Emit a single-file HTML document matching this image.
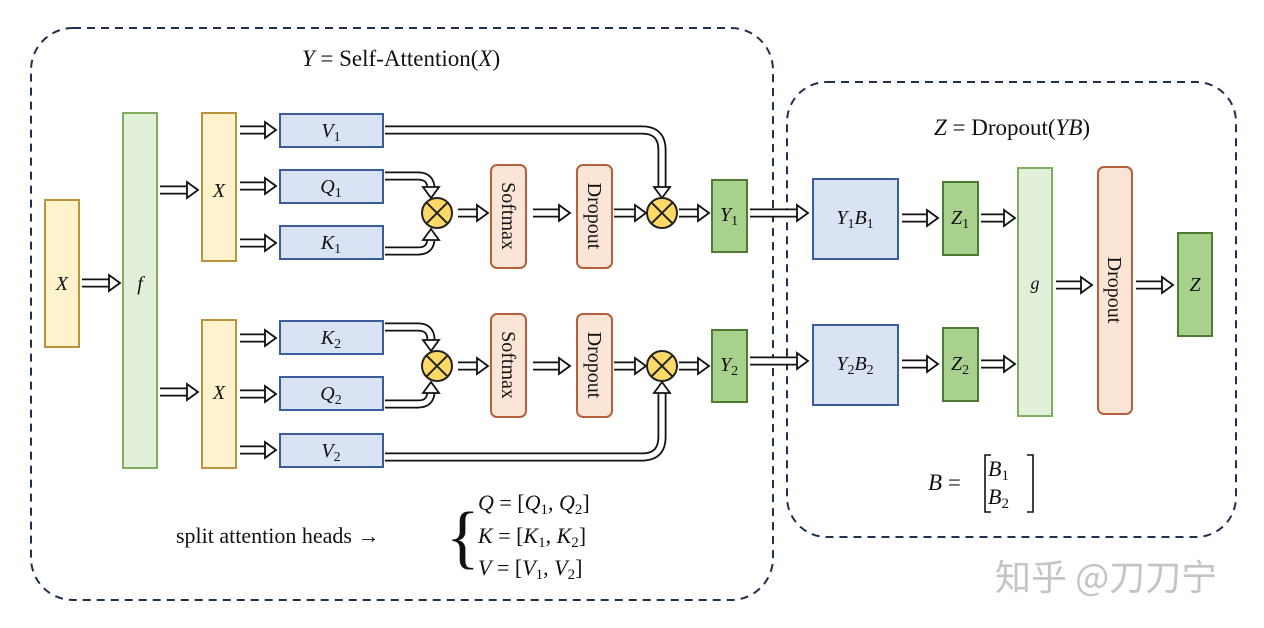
<!DOCTYPE html>
<html><head><meta charset="utf-8">
<style>
html,body{margin:0;padding:0;background:#fff;width:1264px;height:628px;overflow:hidden}
svg text{font-family:"Liberation Serif",serif;fill:#111}
.i{font-style:italic}
</style></head>
<body>
<svg id="s" width="1264" height="628" viewBox="0 0 1264 628" xmlns="http://www.w3.org/2000/svg">
<rect x="31" y="28" width="742" height="572" rx="42" fill="none" stroke="#1f3050" stroke-width="2" stroke-dasharray="8,6"/>
<rect x="787" y="82" width="449" height="455" rx="40" fill="none" stroke="#1f3050" stroke-width="2" stroke-dasharray="8,6"/>
<g id="shapes" stroke-width="2">
<rect x="45" y="200" width="34" height="147" fill="#fff2cc" stroke="#b8953a"/>
<rect x="123" y="113" width="34" height="355" fill="#e2f0d9" stroke="#7fae5e"/>
<rect x="202" y="113" width="34" height="148" fill="#fff2cc" stroke="#b8953a"/>
<rect x="202" y="320" width="34" height="148" fill="#fff2cc" stroke="#b8953a"/>
<g fill="#dae3f3" stroke="#3b5d9c">
<rect x="280" y="114" width="103" height="33"/><rect x="280" y="170" width="103" height="33"/><rect x="280" y="226" width="103" height="33"/>
<rect x="280" y="321" width="103" height="33"/><rect x="280" y="377" width="103" height="33"/><rect x="280" y="434" width="103" height="33"/>
<rect x="813" y="179" width="85" height="80"/><rect x="813" y="325" width="85" height="80"/>
</g>
<g fill="#fbe5d6" stroke="#b5603a">
<rect x="491" y="165" width="35" height="103" rx="6"/><rect x="577" y="165" width="35" height="103" rx="6"/>
<rect x="491" y="314" width="35" height="103" rx="6"/><rect x="577" y="314" width="35" height="103" rx="6"/>
<rect x="1098" y="167" width="34" height="247" rx="6"/>
</g>
<g fill="#a9d18e" stroke="#4f7a31">
<rect x="712" y="180" width="35" height="72"/><rect x="712" y="330" width="35" height="72"/>
<rect x="943" y="182" width="35" height="73"/><rect x="943" y="328" width="35" height="73"/>
<rect x="1178" y="233" width="34" height="103"/>
</g>
<rect x="1018" y="168" width="34" height="248" fill="#e2f0d9" stroke="#7fae5e"/>
</g>
<g id="arrows"></g>
<g id="circ"></g>
<text x="401" y="66" font-size="23" text-anchor="middle"><tspan class="i">Y</tspan> = Self-Attention(<tspan class="i">X</tspan>)</text>
<text x="1012" y="135" font-size="23" text-anchor="middle"><tspan class="i">Z</tspan> = Dropout(<tspan class="i">YB</tspan>)</text>
<g font-size="20" text-anchor="middle" class="i">
<text x="62" y="290" class="i">X</text>
<text x="140" y="290" class="i">f</text>
<text x="219" y="197" class="i">X</text>
<text x="219" y="399" class="i">X</text>
<text x="1035" y="289" class="i" font-size="18">g</text>
<text x="1195" y="291" class="i">Z</text>
</g>
<g font-size="20" text-anchor="middle">
<text x="331" y="137"><tspan class="i">V</tspan><tspan font-size="14" dy="4">1</tspan></text>
<text x="331" y="193"><tspan class="i">Q</tspan><tspan font-size="14" dy="4">1</tspan></text>
<text x="331" y="249"><tspan class="i">K</tspan><tspan font-size="14" dy="4">1</tspan></text>
<text x="331" y="344"><tspan class="i">K</tspan><tspan font-size="14" dy="4">2</tspan></text>
<text x="331" y="400"><tspan class="i">Q</tspan><tspan font-size="14" dy="4">2</tspan></text>
<text x="331" y="457"><tspan class="i">V</tspan><tspan font-size="14" dy="4">2</tspan></text>
<text x="729" y="221"><tspan class="i">Y</tspan><tspan font-size="14" dy="4">1</tspan></text>
<text x="729" y="371"><tspan class="i">Y</tspan><tspan font-size="14" dy="4">2</tspan></text>
<text x="855" y="224"><tspan class="i">Y</tspan><tspan font-size="14" dy="4">1</tspan><tspan class="i" dy="-4">B</tspan><tspan font-size="14" dy="4">1</tspan></text>
<text x="855" y="370"><tspan class="i">Y</tspan><tspan font-size="14" dy="4">2</tspan><tspan class="i" dy="-4">B</tspan><tspan font-size="14" dy="4">2</tspan></text>
<text x="960" y="224"><tspan class="i">Z</tspan><tspan font-size="14" dy="4">1</tspan></text>
<text x="960" y="370"><tspan class="i">Z</tspan><tspan font-size="14" dy="4">2</tspan></text>
</g>
<g font-size="20" text-anchor="middle">
<text transform="translate(502,216) rotate(90)">Softmax</text>
<text transform="translate(588,216) rotate(90)">Dropout</text>
<text transform="translate(502,365) rotate(90)">Softmax</text>
<text transform="translate(588,365) rotate(90)">Dropout</text>
<text transform="translate(1108,290) rotate(90)">Dropout</text>
</g>
<text x="176" y="543" font-size="22">split attention heads →</text>
<text x="446" y="560" font-size="70" font-weight="lighter">{</text>
<g font-size="22">
<text x="478" y="510"><tspan class="i">Q</tspan> = [<tspan class="i">Q</tspan><tspan font-size="15" dy="4">1</tspan><tspan dy="-4">, </tspan><tspan class="i">Q</tspan><tspan font-size="15" dy="4">2</tspan><tspan dy="-4">]</tspan></text>
<text x="478" y="543"><tspan class="i">K</tspan> = [<tspan class="i">K</tspan><tspan font-size="15" dy="4">1</tspan><tspan dy="-4">, </tspan><tspan class="i">K</tspan><tspan font-size="15" dy="4">2</tspan><tspan dy="-4">]</tspan></text>
<text x="478" y="575"><tspan class="i">V</tspan> = [<tspan class="i">V</tspan><tspan font-size="15" dy="4">1</tspan><tspan dy="-4">, </tspan><tspan class="i">V</tspan><tspan font-size="15" dy="4">2</tspan><tspan dy="-4">]</tspan></text>
</g>
<text x="928" y="490" font-size="23"><tspan class="i">B</tspan> =</text>
<path d="M991 455 H985 V512 H991 M1027 455 H1033 V512 H1027" fill="none" stroke="#111" stroke-width="1.6"/>
<g font-size="22">
<text x="988" y="476"><tspan class="i">B</tspan><tspan font-size="15" dy="4">1</tspan></text>
<text x="988" y="504"><tspan class="i">B</tspan><tspan font-size="15" dy="4">2</tspan></text>
</g>
<text x="995" y="590" font-size="36" style="fill:#c4c4c4;font-family:'Noto Sans CJK SC','WenQuanYi Zen Hei',sans-serif">知乎 @刀刀宁</text>
</svg>
<script>
var NS="http://www.w3.org/2000/svg",A=document.getElementById("arrows");
function el(t,a){var e=document.createElementNS(NS,t);for(var k in a)e.setAttribute(k,a[k]);A.appendChild(e);return e;}
function arr(d,tx,ty,dir){
 el("path",{d:d,fill:"none",stroke:"#111","stroke-width":9});
 el("path",{d:d,fill:"none",stroke:"#fff","stroke-width":5.4});
 var L=11,W=8,p;
 if(dir=="r")p=[[tx,ty],[tx-L,ty-W],[tx-L,ty+W]];
 if(dir=="d")p=[[tx,ty],[tx-W,ty-L],[tx+W,ty-L]];
 if(dir=="u")p=[[tx,ty],[tx-W,ty+L],[tx+W,ty+L]];
 el("polygon",{points:p.map(function(q){return q.join(",")}).join(" "),fill:"#fff",stroke:"#111","stroke-width":1.8});
}
function h(x1,x2,y){arr("M"+x1+" "+y+" H"+(x2-10),x2,y,"r");}
[[82,120,283],[160,198,190],[160,198,392],
[240,276,130],[240,276,186],[240,276,243],[240,276,338],[240,276,394],[240,276,450],
[458,488,213],[458,488,366],[533,570,213],[533,570,366],[614,646,213],[614,646,366],
[679,709,213],[679,709,366],[750,808,213],[750,808,361],
[902,938,218],[902,938,364],[981,1015,218],[981,1015,364],[1056,1092,285],[1136,1173,285]
].forEach(function(a){h(a[0],a[1],a[2]);});
arr("M385 130 H642 Q662 130 662 150 V187",662,198,"d");
arr("M385 176 H418 Q431 176 431 189 V188",431,198,"d");
arr("M385 251 H418 Q431 251 431 238 V239",431,229,"u");
arr("M385 327 H418 Q431 327 431 340 V341",431,351,"d");
arr("M385 404 H418 Q431 404 431 391 V392",431,382,"u");
arr("M385 457 H642 Q662 457 662 437 V392",662,382,"u");
var C=document.getElementById("circ");
[[437,213],[662,213],[437,366],[662,366]].forEach(function(c){
 var x=c[0],y=c[1],r=15;
 function ce(t,a){var e=document.createElementNS(NS,t);for(var k in a)e.setAttribute(k,a[k]);C.appendChild(e);}
 ce("circle",{cx:x,cy:y,r:r,fill:"#ffd966",stroke:"#222","stroke-width":2});
 var d=r*0.707;
 ce("path",{d:"M"+(x-d)+" "+(y-d)+" L"+(x+d)+" "+(y+d)+" M"+(x+d)+" "+(y-d)+" L"+(x-d)+" "+(y+d),stroke:"#222","stroke-width":2});
});
</script>
</body></html>
